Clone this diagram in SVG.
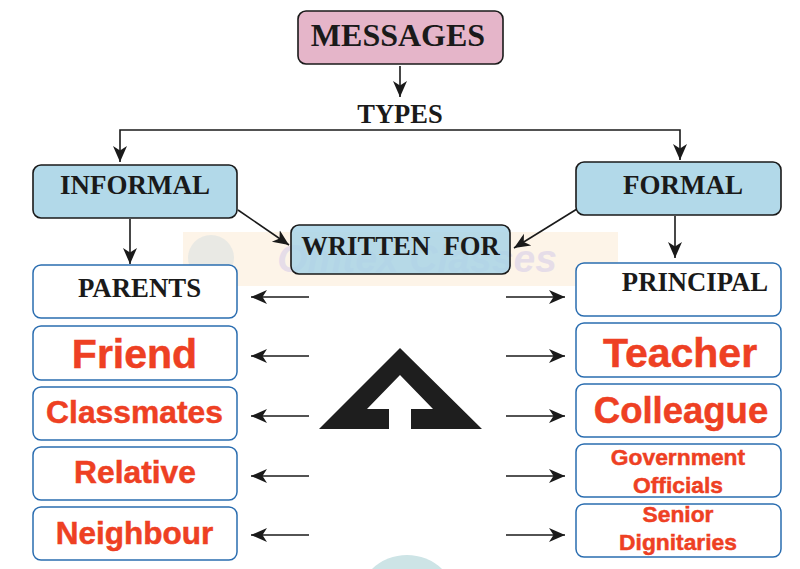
<svg xmlns="http://www.w3.org/2000/svg" width="800" height="569" viewBox="0 0 800 569">
<style>
.s{font-family:"Liberation Serif",serif;font-weight:bold;fill:#1a1a1a;text-anchor:middle}
.r{font-family:"Liberation Sans",Arial,sans-serif;font-weight:bold;fill:#ee4023;stroke:#ee4023;stroke-width:.5;text-anchor:middle}
.b{fill:#fff;stroke:#2a6db0;stroke-width:1.5}
.k{fill:#b2d9e9;stroke:#1a1a1a;stroke-width:1.6}
.c{fill:none;stroke:#1a1a1a;stroke-width:1.6}
</style>
<defs>
<marker id="a" markerUnits="userSpaceOnUse" markerWidth="17" markerHeight="16" refX="16" refY="8" orient="auto"><path d="M0 1 L16 8 L0 15 L4.500 8Z" fill="#1a1a1a"/></marker>
</defs>
<rect width="800" height="569" fill="#fff"/>
<g id="watermark">
<rect x="183" y="232" width="435" height="54" fill="#fdf4e8"/>
<circle cx="211" cy="258" r="23" fill="#e9e9e4"/>
<text x="417" y="272" font-family="Liberation Sans,sans-serif" font-weight="bold" font-style="italic" font-size="39" fill="#e6dde8" text-anchor="middle">Omtex Classes</text>
</g>
<path id="bottom-shape" d="M372 569 A50.700 50.700 0 0 1 442 569Z" fill="#cde4e6"/>
<g id="connectors">
<path class="c" d="M400 66V97" marker-end="url(#a)"/>
<path class="c" d="M400 130H120V162" marker-end="url(#a)"/>
<path class="c" d="M400 130H680V160" marker-end="url(#a)"/>
<path class="c" d="M130 219V264" marker-end="url(#a)"/>
<path class="c" d="M675 216V258" marker-end="url(#a)"/>
<path class="c" d="M238 210L289 245" marker-end="url(#a)"/>
<path class="c" d="M577 209L514 248" marker-end="url(#a)"/>
<path class="c" d="M309 297H251" marker-end="url(#a)"/>
<path class="c" d="M309 356H251" marker-end="url(#a)"/>
<path class="c" d="M309 416H251" marker-end="url(#a)"/>
<path class="c" d="M309 476H251" marker-end="url(#a)"/>
<path class="c" d="M309 535H251" marker-end="url(#a)"/>
<path class="c" d="M506 297H565" marker-end="url(#a)"/>
<path class="c" d="M506 356H565" marker-end="url(#a)"/>
<path class="c" d="M506 416H565" marker-end="url(#a)"/>
<path class="c" d="M506 476H565" marker-end="url(#a)"/>
<path class="c" d="M506 535H565" marker-end="url(#a)"/>
</g>
<g id="messages"><rect x="298" y="11" width="205" height="53" rx="8" fill="#e5b5c9" stroke="#1a1a1a" stroke-width="1.6"/><text class="s" x="398" y="46" font-size="32">MESSAGES</text></g>
<g id="types"><text class="s" x="400" y="123" font-size="26.500">TYPES</text></g>
<g id="informal"><rect class="k" x="33" y="165" width="204" height="53" rx="8"/><text class="s" x="135" y="194" font-size="27">INFORMAL</text></g>
<g id="formal"><rect class="k" x="576" y="162" width="205" height="53" rx="8"/><text class="s" x="683" y="194" font-size="27">FORMAL</text></g>
<g id="written-for"><rect x="291" y="225" width="219" height="49" rx="8" fill="#a9d3e6" fill-opacity=".85" stroke="#1a1a1a" stroke-width="1.6"/><text class="s" x="400.500" y="255" font-size="26.700" xml:space="preserve">WRITTEN  FOR</text></g>
<g id="parents"><rect class="b" x="33" y="265" width="204" height="53" rx="8"/><text class="s" x="139.500" y="297" font-size="26.800">PARENTS</text></g>
<g id="friend"><rect class="b" x="33" y="326" width="204" height="54" rx="8"/><text class="r" x="134.500" y="368" font-size="41">Friend</text></g>
<g id="classmates"><rect class="b" x="33" y="387" width="204" height="53" rx="8"/><text class="r" x="134.500" y="423" font-size="31.800">Classmates</text></g>
<g id="relative"><rect class="b" x="33" y="447" width="204" height="53" rx="8"/><text class="r" x="135" y="483" font-size="31.800">Relative</text></g>
<g id="neighbour"><rect class="b" x="33" y="507" width="204" height="53" rx="8"/><text class="r" x="134.500" y="544" font-size="31.500">Neighbour</text></g>
<g id="principal"><rect class="b" x="576" y="263" width="205" height="53" rx="8"/><text class="s" x="695" y="291" font-size="26.700">PRINCIPAL</text></g>
<g id="teacher"><rect class="b" x="576" y="323" width="205" height="54" rx="8"/><text class="r" x="680" y="367" font-size="41">Teacher</text></g>
<g id="colleague"><rect class="b" x="576" y="384" width="205" height="53" rx="8"/><text class="r" x="681" y="423" font-size="36.500">Colleague</text></g>
<g id="government"><rect class="b" x="576" y="444" width="205" height="53" rx="8"/><text class="r" x="678" y="465" font-size="22.800">Government</text><text class="r" x="678" y="493" font-size="22.800">Officials</text></g>
<g id="senior"><rect class="b" x="576" y="504" width="205" height="53" rx="8"/><text class="r" x="678" y="522" font-size="22.800">Senior</text><text class="r" x="678" y="550" font-size="22.800">Dignitaries</text></g>
<path id="up-arrow" d="M400 348L482 429H411V409H433L400 375L367 409H389V429H319Z" fill="#1e1e1e"/>
</svg>
